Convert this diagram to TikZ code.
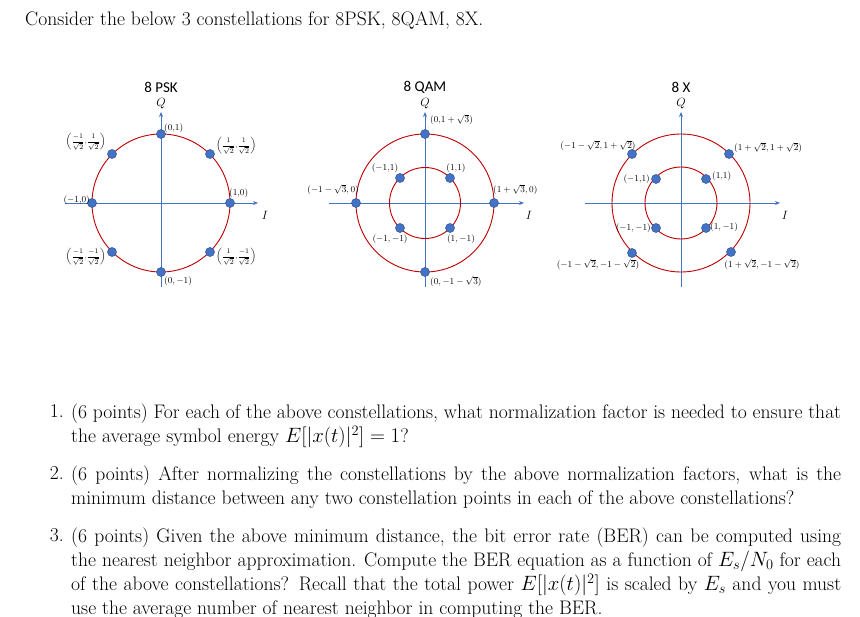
\documentclass[tikz,border=0pt]{standalone}
\usepackage{fontspec}
\usepackage{amsmath,amssymb}
\newfontfamily\calib{Carlito}
\usetikzlibrary{arrows.meta}
\definecolor{dotblue}{HTML}{4472C4}
\definecolor{dotedge}{HTML}{2F528F}
\definecolor{ringred}{HTML}{C00000}
\tikzset{
 axis/.style={draw=dotblue,line width=0.8pt,-{Stealth[length=5pt,width=4pt]}},
 ring/.style={draw=ringred,line width=0.9pt},
 pt/.style={circle,fill=dotblue,draw=dotedge,line width=0.5pt,inner sep=0pt,minimum size=9pt},
 lab/.style={font=\fontsize{9.5}{10}\selectfont,inner sep=1pt},
 flab/.style={font=\fontsize{7}{8}\selectfont,inner sep=0pt},
 ttl/.style={font=\calib\fontsize{15}{17}\selectfont},
 axl/.style={font=\fontsize{12}{13}\selectfont},
 qtext/.style={font=\fontsize{19.6}{24}\selectfont,execute at begin node={\hyphenpenalty=10000\relax},text width=770pt,align=justify,anchor=north west,inner sep=0pt},
 qnum/.style={font=\fontsize{19.6}{24}\selectfont,anchor=north east,inner sep=0pt}
}
\begin{document}
\begin{tikzpicture}[x=1pt,y=-1pt]
\useasboundingbox (0,0) rectangle (860,617);
\node[font=\fontsize{19.6}{24}\selectfont,anchor=west,inner sep=0pt] (head) at (25,20) {Consider the below 3 constellations for 8PSK, 8QAM, 8X.};
% ---------- 8 PSK
\node[ttl] (t1) at (161,87) {8 PSK};
\coordinate (p1l) at (65,203); \coordinate (p1r) at (258,203);
\coordinate (p1b) at (161,287); \coordinate (p1t) at (161,112);
\draw[axis] (p1l) -- (p1r);
\draw[axis] (p1b) -- (p1t);
\node[axl] (q1) at (161,104) {$Q$};
\node[axl] (i1) at (265,215) {$I$};
\draw[ring] (161,203) circle (69);
\node[pt] (a1) at (161,134) {}; \node[pt] (a2) at (210,154) {};
\node[pt] (a3) at (230,203) {}; \node[pt] (a4) at (210,252) {};
\node[pt] (a5) at (161,272) {}; \node[pt] (a6) at (112,252) {};
\node[pt] (a7) at (92,203) {}; \node[pt] (a8) at (112,154) {};
\node[lab,anchor=south west] at (163,134) {$(0{,}1)$};
\node[flab,anchor=west] at (216,146) {$\left(\dfrac{1}{\sqrt2}{,}\dfrac{1}{\sqrt2}\right)$};
\node[lab,anchor=south west] at (228,199) {$(1{,}0)$};
\node[flab,anchor=west] at (216,257) {$\left(\dfrac{1}{\sqrt2}{,}\dfrac{-1}{\sqrt2}\right)$};
\node[lab,anchor=north west] at (163,276) {$(0,-1)$};
\node[flab,anchor=east] at (106,257) {$\left(\dfrac{-1}{\sqrt2}{,}\dfrac{-1}{\sqrt2}\right)$};
\node[lab,anchor=south east] at (91,206) {$(-1{,}0)$};
\node[flab,anchor=east] at (106,142) {$\left(\dfrac{-1}{\sqrt2}{,}\dfrac{1}{\sqrt2}\right)$};
% ---------- 8 QAM
\node[ttl] (t2) at (425,87) {8 QAM};
\coordinate (p2l) at (329,203); \coordinate (p2r) at (524,203);
\coordinate (p2b) at (425,287); \coordinate (p2t) at (425,112);
\draw[axis] (p2l) -- (p2r);
\draw[axis] (p2b) -- (p2t);
\node[axl] (q2) at (425,104) {$Q$};
\node[axl] (i2) at (529,215) {$I$};
\draw[ring] (425,203) circle (69);
\draw[ring] (425,203) circle (35.5);
\node[pt] (b1) at (425,134) {}; \node[pt] (b2) at (494,203) {};
\node[pt] (b3) at (425,272) {}; \node[pt] (b4) at (356,203) {};
\node[pt] (b5) at (450,178) {}; \node[pt] (b6) at (450,228) {};
\node[pt] (b7) at (400,228) {}; \node[pt] (b8) at (400,178) {};
\node[lab,anchor=south west] at (429,126) {$(0{,}1+\sqrt3)$};
\node[lab,anchor=south west] at (492,196) {$(1+\sqrt3,0)$};
\node[lab,anchor=north west] at (429,275) {$(0,-1-\sqrt3)$};
\node[lab,anchor=south east] at (360,196) {$(-1-\sqrt3,0)$};
\node[lab,anchor=south] at (456,174) {$(1{,}1)$};
\node[lab,anchor=south] at (385,174) {$(-1{,}1)$};
\node[lab,anchor=north] at (461,234) {$(1,-1)$};
\node[lab,anchor=north] at (390,234) {$(-1,-1)$};
% ---------- 8 X
\node[ttl] (t3) at (681,87) {8 X};
\coordinate (p3l) at (585,203); \coordinate (p3r) at (780,203);
\coordinate (p3b) at (681,287); \coordinate (p3t) at (681,112);
\draw[axis] (p3l) -- (p3r);
\draw[axis] (p3b) -- (p3t);
\node[axl] (q3) at (681,104) {$Q$};
\node[axl] (i3) at (785,215) {$I$};
\draw[ring] (681,203) circle (69);
\draw[ring] (681,203) circle (36);
\node[pt] (c1) at (706,179) {}; \node[pt] (c2) at (656,179) {};
\node[pt] (c3) at (656,228) {}; \node[pt] (c4) at (706,228) {};
\node[pt] (c5) at (729,154) {}; \node[pt] (c6) at (632,154) {};
\node[pt] (c7) at (632,253) {}; \node[pt] (c8) at (731,252) {};
\node[lab,anchor=west] at (711,176) {$(1{,}1)$};
\node[lab,anchor=east] at (651,179) {$(-1{,}1)$};
\node[lab,anchor=east] at (652,228) {$(-1,-1)$};
\node[lab,anchor=west] at (709,227) {$(1,-1)$};
\node[lab,anchor=west] at (733,148) {$(1+\sqrt2,1+\sqrt2)$};
\node[lab,anchor=south] at (598,152) {$(-1-\sqrt2,1+\sqrt2)$};
\node[lab,anchor=north] at (598,258) {$(-1-\sqrt2,-1-\sqrt2)$};
\node[lab,anchor=north] at (762,258) {$(1+\sqrt2,-1-\sqrt2)$};
% ---------- questions
\node[qnum] (n1) at (64,404) {1.};
\node[qtext] (q1t) at (71,404) {(6 points) For each of the above constellations, what normalization factor is needed to ensure that the average symbol energy $E[|x(t)|^2]=1$?};
\node[qnum] (n2) at (64,466) {2.};
\node[qtext] (q2t) at (71,466) {(6 points) After normalizing the constellations by the above normalization factors, what is the minimum distance between any two constellation points in each of the above constellations?};
\node[qnum] (n3) at (64,528) {3.};
\node[qtext] (q3t) at (71,528) {(6 points) Given the above minimum distance, the bit error rate (BER) can be computed using\linebreak the nearest neighbor approximation. Compute the BER equation as a function of $E_s/N_0$ for each\linebreak of the above constellations? Recall that the total power $E[|x(t)|^2]$ is scaled by $E_s$ and you must\linebreak use the average number of nearest neighbor in computing the BER.};
\end{tikzpicture}
\end{document}
